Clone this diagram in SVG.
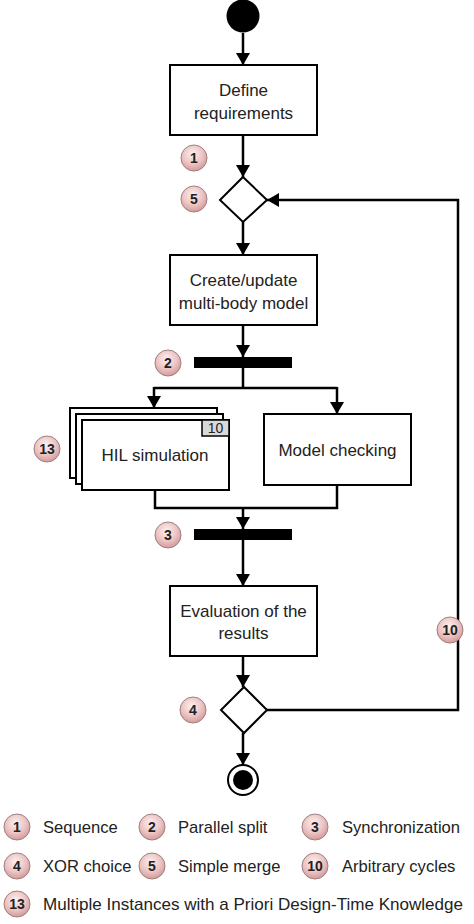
<svg xmlns="http://www.w3.org/2000/svg" width="474" height="924" viewBox="0 0 474 924">
<defs>
<radialGradient id="bg" cx="45%" cy="35%" r="65%">
<stop offset="0" stop-color="#fdf1f1"/>
<stop offset="0.6" stop-color="#ecc3c3"/>
<stop offset="1" stop-color="#d49a9a"/>
</radialGradient>
<marker id="ah" viewBox="0 0 12 14" refX="12" refY="7" markerWidth="12" markerHeight="14" markerUnits="userSpaceOnUse" orient="auto">
<path d="M0,0 L12,7 L0,14 Z" fill="#000"/>
</marker>
<style>
.box{fill:#fff;stroke:#000;stroke-width:2}
.ln{fill:none;stroke:#000;stroke-width:2.5}
.t{font-family:"Liberation Sans",Arial,sans-serif;font-size:17px;fill:#222;text-anchor:middle}
.bd circle{fill:url(#bg);stroke:#a08080;stroke-width:1}
.bd text{font-family:"Liberation Sans",Arial,sans-serif;font-size:14px;font-weight:bold;fill:#222;text-anchor:middle}
.lg{font-family:"Liberation Sans",Arial,sans-serif;font-size:16.6px;fill:#222}
</style>
</defs>
<rect width="474" height="924" fill="#fff"/>
<g id="connectors">
<path class="ln" d="M243,33 V65" marker-end="url(#ah)"/>
<path class="ln" d="M243,135 V177" marker-end="url(#ah)"/>
<path class="ln" d="M243,222 V255" marker-end="url(#ah)"/>
<path class="ln" d="M243,325 V357" marker-end="url(#ah)"/>
<path class="ln" d="M243,368 V388 M154,388 H337"/>
<path class="ln" d="M154,387 V408" marker-end="url(#ah)"/>
<path class="ln" d="M337,387 V414" marker-end="url(#ah)"/>
<path class="ln" d="M155,490 V508 H337 V485"/>
<path class="ln" d="M243,508 V529" marker-end="url(#ah)"/>
<path class="ln" d="M243,540 V586" marker-end="url(#ah)"/>
<path class="ln" d="M243,656 V687" marker-end="url(#ah)"/>
<path class="ln" d="M243,733 V765" marker-end="url(#ah)"/>
<path class="ln" d="M267,710 H458 V200 H267" marker-end="url(#ah)"/>
</g>
<g id="start"><circle cx="243" cy="16" r="16.5" fill="#000"/></g>
<g id="define"><rect class="box" x="170" y="65" width="147" height="70"/><text class="t" x="243.5" y="96">Define</text><text class="t" x="243.5" y="119">requirements</text></g>
<g id="merge"><path class="box" d="M243,177 L267,200 L243,222 L220,200 Z"/></g>
<g id="create"><rect class="box" x="170" y="255" width="147" height="70"/><text class="t" x="243.5" y="286">Create/update</text><text class="t" x="243.5" y="309">multi-body model</text></g>
<g id="split"><rect x="194" y="357" width="98" height="11" fill="#000"/></g>
<g id="hil">
<rect class="box" x="70" y="408" width="147" height="70"/>
<rect class="box" x="76" y="414" width="147" height="70"/>
<rect class="box" x="82" y="420" width="147" height="70"/>
<rect x="202" y="420" width="27" height="16" fill="#d9d9d9" stroke="#000" stroke-width="1.5"/>
<text x="215.5" y="433" style="font-family:'Liberation Sans',Arial,sans-serif;font-size:14px;fill:#222;text-anchor:middle">10</text>
<text class="t" x="155" y="461">HIL simulation</text>
</g>
<g id="modelcheck"><rect class="box" x="264" y="414" width="147" height="71"/><text class="t" x="337.5" y="456">Model checking</text></g>
<g id="join"><rect x="194" y="529" width="98" height="11" fill="#000"/></g>
<g id="eval"><rect class="box" x="170" y="586" width="147" height="70"/><text class="t" x="243.5" y="617">Evaluation of the</text><text class="t" x="243.5" y="639">results</text></g>
<g id="xor"><path class="box" d="M244,687 L267,710 L244,733 L221,710 Z"/></g>
<g id="end"><circle cx="243" cy="780" r="15" fill="#fff" stroke="#000" stroke-width="2"/><circle cx="243" cy="780" r="10" fill="#000"/></g>
<g id="badges" class="bd">
<g><circle cx="194" cy="158" r="13"/><text x="194" y="163">1</text></g>
<g><circle cx="194" cy="199" r="13"/><text x="194" y="204">5</text></g>
<g><circle cx="168" cy="363" r="13"/><text x="168" y="368">2</text></g>
<g><circle cx="47" cy="449" r="13"/><text x="47" y="454">13</text></g>
<g><circle cx="168" cy="535" r="13"/><text x="168" y="540">3</text></g>
<g><circle cx="450" cy="630" r="13"/><text x="450" y="635">10</text></g>
<g><circle cx="193" cy="710" r="13"/><text x="193" y="715">4</text></g>
</g>
<g id="legend">
<g class="bd">
<g><circle cx="17" cy="827" r="13"/><text x="17" y="832">1</text></g>
<g><circle cx="152" cy="827" r="13"/><text x="152" y="832">2</text></g>
<g><circle cx="315" cy="827" r="13"/><text x="315" y="832">3</text></g>
<g><circle cx="17" cy="866" r="13"/><text x="17" y="871">4</text></g>
<g><circle cx="152" cy="866" r="13"/><text x="152" y="871">5</text></g>
<g><circle cx="315" cy="866" r="13"/><text x="315" y="871">10</text></g>
<g><circle cx="17" cy="904" r="13"/><text x="17" y="909">13</text></g>
</g>
<text class="lg" x="43" y="833">Sequence</text>
<text class="lg" x="178" y="833">Parallel split</text>
<text class="lg" x="342" y="833">Synchronization</text>
<text class="lg" x="43" y="872">XOR choice</text>
<text class="lg" x="178" y="872">Simple merge</text>
<text class="lg" x="342" y="872">Arbitrary cycles</text>
<text class="lg" x="43" y="910" textLength="420" lengthAdjust="spacingAndGlyphs">Multiple Instances with a Priori Design-Time Knowledge</text>
</g>
</svg>
